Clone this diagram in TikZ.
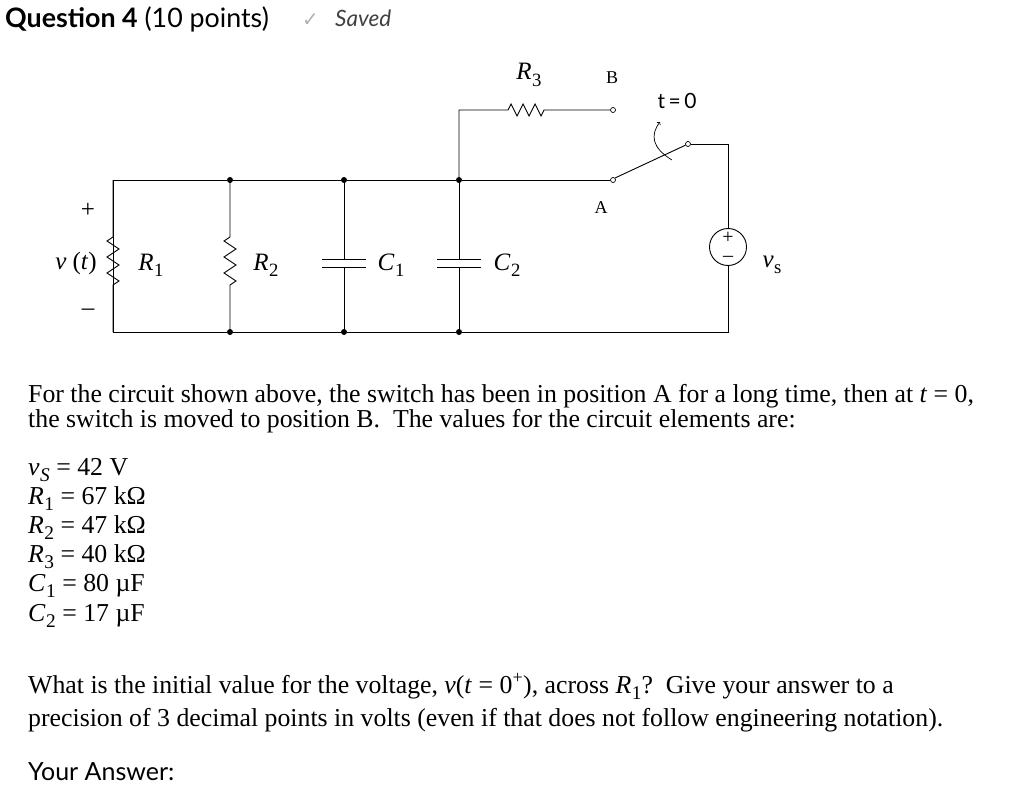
\documentclass[tikz,border=0pt]{standalone}
\usepackage{fontspec}
\setmainfont{Liberation Serif}
\newfontfamily\lato{Lato}
\newfontfamily\dv{DejaVu Sans}
\newcommand\ssub[2]{\textit{#1}\kern0.5pt\raisebox{-0.25em}{\scalebox{0.75}{#2}}}
\begin{document}
\begin{tikzpicture}[x=1pt,y=-1pt,
  w/.style={line width=0.9pt},
  dot/.style={circle,fill,inner sep=0pt,minimum size=6pt},
  odot/.style={circle,draw,fill=white,inner sep=0pt,minimum size=5pt,line width=0.7pt},
  lab/.style={font=\fontsize{25}{28}\selectfont},
  txt/.style={anchor=base west,inner sep=0pt,font=\fontsize{25.8}{28}\selectfont}]
\useasboundingbox (0,0) rectangle (1024,797);
% title
\node[anchor=base west,inner sep=0pt,font=\lato\fontsize{26.8}{30}\selectfont] (title) at (5,28) {\textbf{Question 4} (10 points)};
\node[anchor=base west,inner sep=0pt,text=gray!60,font=\dv\fontsize{20}{24}\selectfont] (chk) at (302,27) {✓};
\node[anchor=base west,inner sep=0pt,text=black!75,font=\lato\itshape\fontsize{22.5}{26}\selectfont] (saved) at (335,27) {Saved};
% nodes
\coordinate (TL) at (113,180); \coordinate (BL) at (113,332);
\node[dot] (t2) at (230,180) {}; \node[dot] (b2) at (230,332) {};
\node[dot] (t3) at (344,180) {}; \node[dot] (b3) at (344,332) {};
\node[dot] (t4) at (459,180) {}; \node[dot] (b4) at (459,332) {};
\node[odot] (A) at (613,180) {}; \node[odot] (B) at (613,110) {};
\node[odot] (P) at (688,144) {};
\coordinate (R3c) at (459,110); \coordinate (Pc) at (728,144); \coordinate (BR) at (728,332);
\node[circle,draw,line width=0.9pt,minimum size=37pt,inner sep=0pt] (vs) at (728,247) {};
% wires
\draw[w] (BL) -- (TL) -- (t2) -- (t3) -- (t4) -- (A);
\draw[w] (BL) -- (b2) -- (b3) -- (b4) -- (BR) -- (vs.south);
\draw[w] (vs.north) -- (Pc) -- (P);
\draw[w] (t4) -- (R3c) -- (508,110) -- ++(3,-6) -- ++(6,12) -- ++(6,-12) -- ++(6,12) -- ++(6,-12) -- ++(6,12) -- ++(3,-6) -- (B);
\draw[w] (P) -- (A.north east);
% R1, R2
\foreach \x in {113,230}{
  \draw[w] (\x,180) -- (\x,237) -- ++(-6,4) -- ++(12,8) -- ++(-12,8) -- ++(12,8) -- ++(-12,8) -- ++(12,8) -- ++(-6,4) -- (\x,332);}
% caps
\foreach \x in {344,459}{
  \draw[w] (\x,180) -- (\x,259); \draw[w] (\x,267) -- (\x,332);
  \draw[w] (\x-22,259) -- (\x+22,259); \draw[w] (\x-22,267) -- (\x+22,267);}
% source signs
\node[font=\fontsize{20}{22}\selectfont,inner sep=0] (sp) at (728,238) {+};
\node[font=\fontsize{20}{22}\selectfont,inner sep=0] (sm) at (728,259) {–};
% switch arrow
\draw[line width=0.7pt,->] (672,160) .. controls (652,148) and (650,135) .. (660,122);
% labels
\node[lab] (lR1) at (151,265) {\ssub{R}{1}};
\node[lab] (lR2) at (266,265) {\ssub{R}{2}};
\node[lab] (lC1) at (391,265) {\ssub{C}{1}};
\node[lab] (lC2) at (507,265) {\ssub{C}{2}};
\node[lab] (lR3) at (529,75) {\ssub{R}{3}};
\node[font=\fontsize{18}{20}\selectfont] (lB) at (612,78) {B};
\node[font=\fontsize{18}{20}\selectfont] (lA) at (601,208) {A};
\node[font=\lato\fontsize{21}{24}\selectfont] (lt) at (677,101) {t\,=\,0};
\node[lab] (lvs) at (772,265) {\ssub{v}{s}};
\node[lab] (lvt) at (76,263) {\textit{v} (\textit{t})};
\node[lab] (lp) at (88,210) {+};
\node[lab] (lm) at (88,312) {–};
% text
\node[txt] (p1) at (28,402) {For the circuit shown above, the switch has been in position A for a long time, then at \textit{t} = 0,};
\node[txt] (p2) at (28,427) {the switch is moved to position B.\ \ The values for the circuit elements are:};
\node[txt] (v1) at (28,475) {\ssub{v}{\textit{S}} = 42 V};
\node[txt] (v2) at (28,504) {\ssub{R}{1} = 67 kΩ};
\node[txt] (v3) at (28,533) {\ssub{R}{2} = 47 kΩ};
\node[txt] (v4) at (28,562) {\ssub{R}{3} = 40 kΩ};
\node[txt] (v5) at (28,591) {\ssub{C}{1} = 80 µF};
\node[txt] (v6) at (28,621) {\ssub{C}{2} = 17 µF};
\node[txt] (q1) at (28,693) {What is the initial value for the voltage, \textit{v}(\textit{t} = 0\textsuperscript{+}), across \ssub{R}{1}?\ \ Give your answer to a};
\node[txt] (q2) at (28,726) {precision of 3 decimal points in volts (even if that does not follow engineering notation).};
\node[anchor=base west,inner sep=0pt,font=\lato\fontsize{25}{28}\selectfont] (ya) at (28,780) {Your Answer:};
\end{tikzpicture}
\end{document}
